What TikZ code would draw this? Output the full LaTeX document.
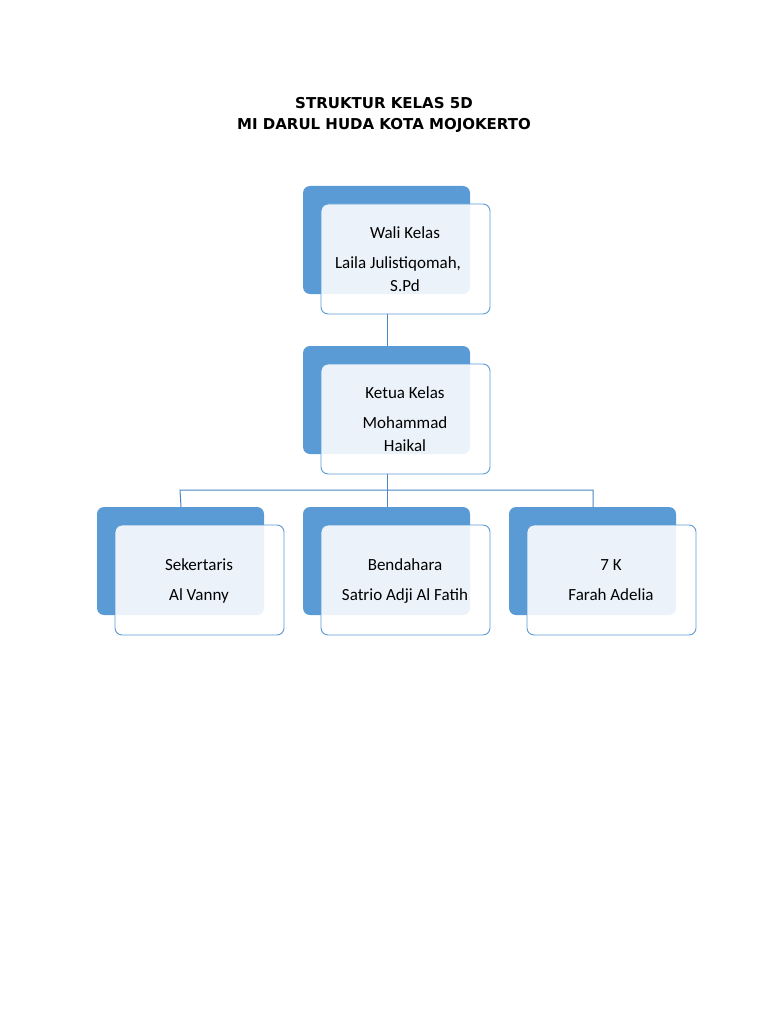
\documentclass[tikz,border=0pt]{standalone}
\usepackage{fontspec}
\setmainfont{Carlito}
\newfontfamily\titlefont{DejaVu Sans}
\definecolor{dk}{HTML}{5B9BD5}
\definecolor{ln}{HTML}{4A86C5}
\begin{document}
\begin{tikzpicture}[x=1pt,y=-1pt,
  back/.style={fill=dk,rounded corners=7pt},
  front/.style={draw=dk,line width=0.9pt,fill=white,fill opacity=0.88,rounded corners=7pt},
  txt/.style={font=\fontsize{17}{20}\selectfont,inner sep=0pt,anchor=base},
  conn/.style={draw=ln,line width=1pt}]
\useasboundingbox (0,0) rectangle (768,1024);
\node[font=\titlefont\bfseries\fontsize{15}{18}\selectfont,anchor=base] (t1) at (384,109) {STRUKTUR KELAS 5D};
\node[font=\titlefont\bfseries\fontsize{15}{18}\selectfont,anchor=base] (t2) at (384,130) {MI DARUL HUDA KOTA MOJOKERTO};
% boxes
\foreach \n/\bx/\by in {w/303/186,k/303/346,s/97/507,b/303/507,f/509/507}{
  \path[back] (\bx,\by) rectangle ++(167,108);
  \path[front] (\bx+18,\by+18) rectangle ++(169,110);
  \coordinate (\n-top) at (\bx+84,\by);
  \coordinate (\n-bot) at (\bx+84,\by+128);
}
\coordinate (hl) at (180,490);
\coordinate (hr) at (593,490);
\draw[conn] (w-bot) -- (k-top);
\draw[conn] (k-bot) -- (b-top);
\draw[conn] (s-top) -- (hl) -- (hr) -- (f-top);
% texts
\node[txt] (w1) at (405,238) {Wali Kelas};
\node[txt] (w2) at (398,268) {Laila Julistiqomah,};
\node[txt] (w3) at (405,291) {S.Pd};
\node[txt] (k1) at (405,398) {Ketua Kelas};
\node[txt] (k2) at (405,428) {Mohammad};
\node[txt] (k3) at (405,451) {Haikal};
\node[txt] (s1) at (199,570) {Sekertaris};
\node[txt] (s2) at (199,600) {Al Vanny};
\node[txt] (b1) at (405,570) {Bendahara};
\node[txt] (b2) at (405,600) {Satrio Adji Al Fatih};
\node[txt] (f1) at (611,570) {7 K};
\node[txt] (f2) at (611,600) {Farah Adelia};
\end{tikzpicture}
\end{document}
